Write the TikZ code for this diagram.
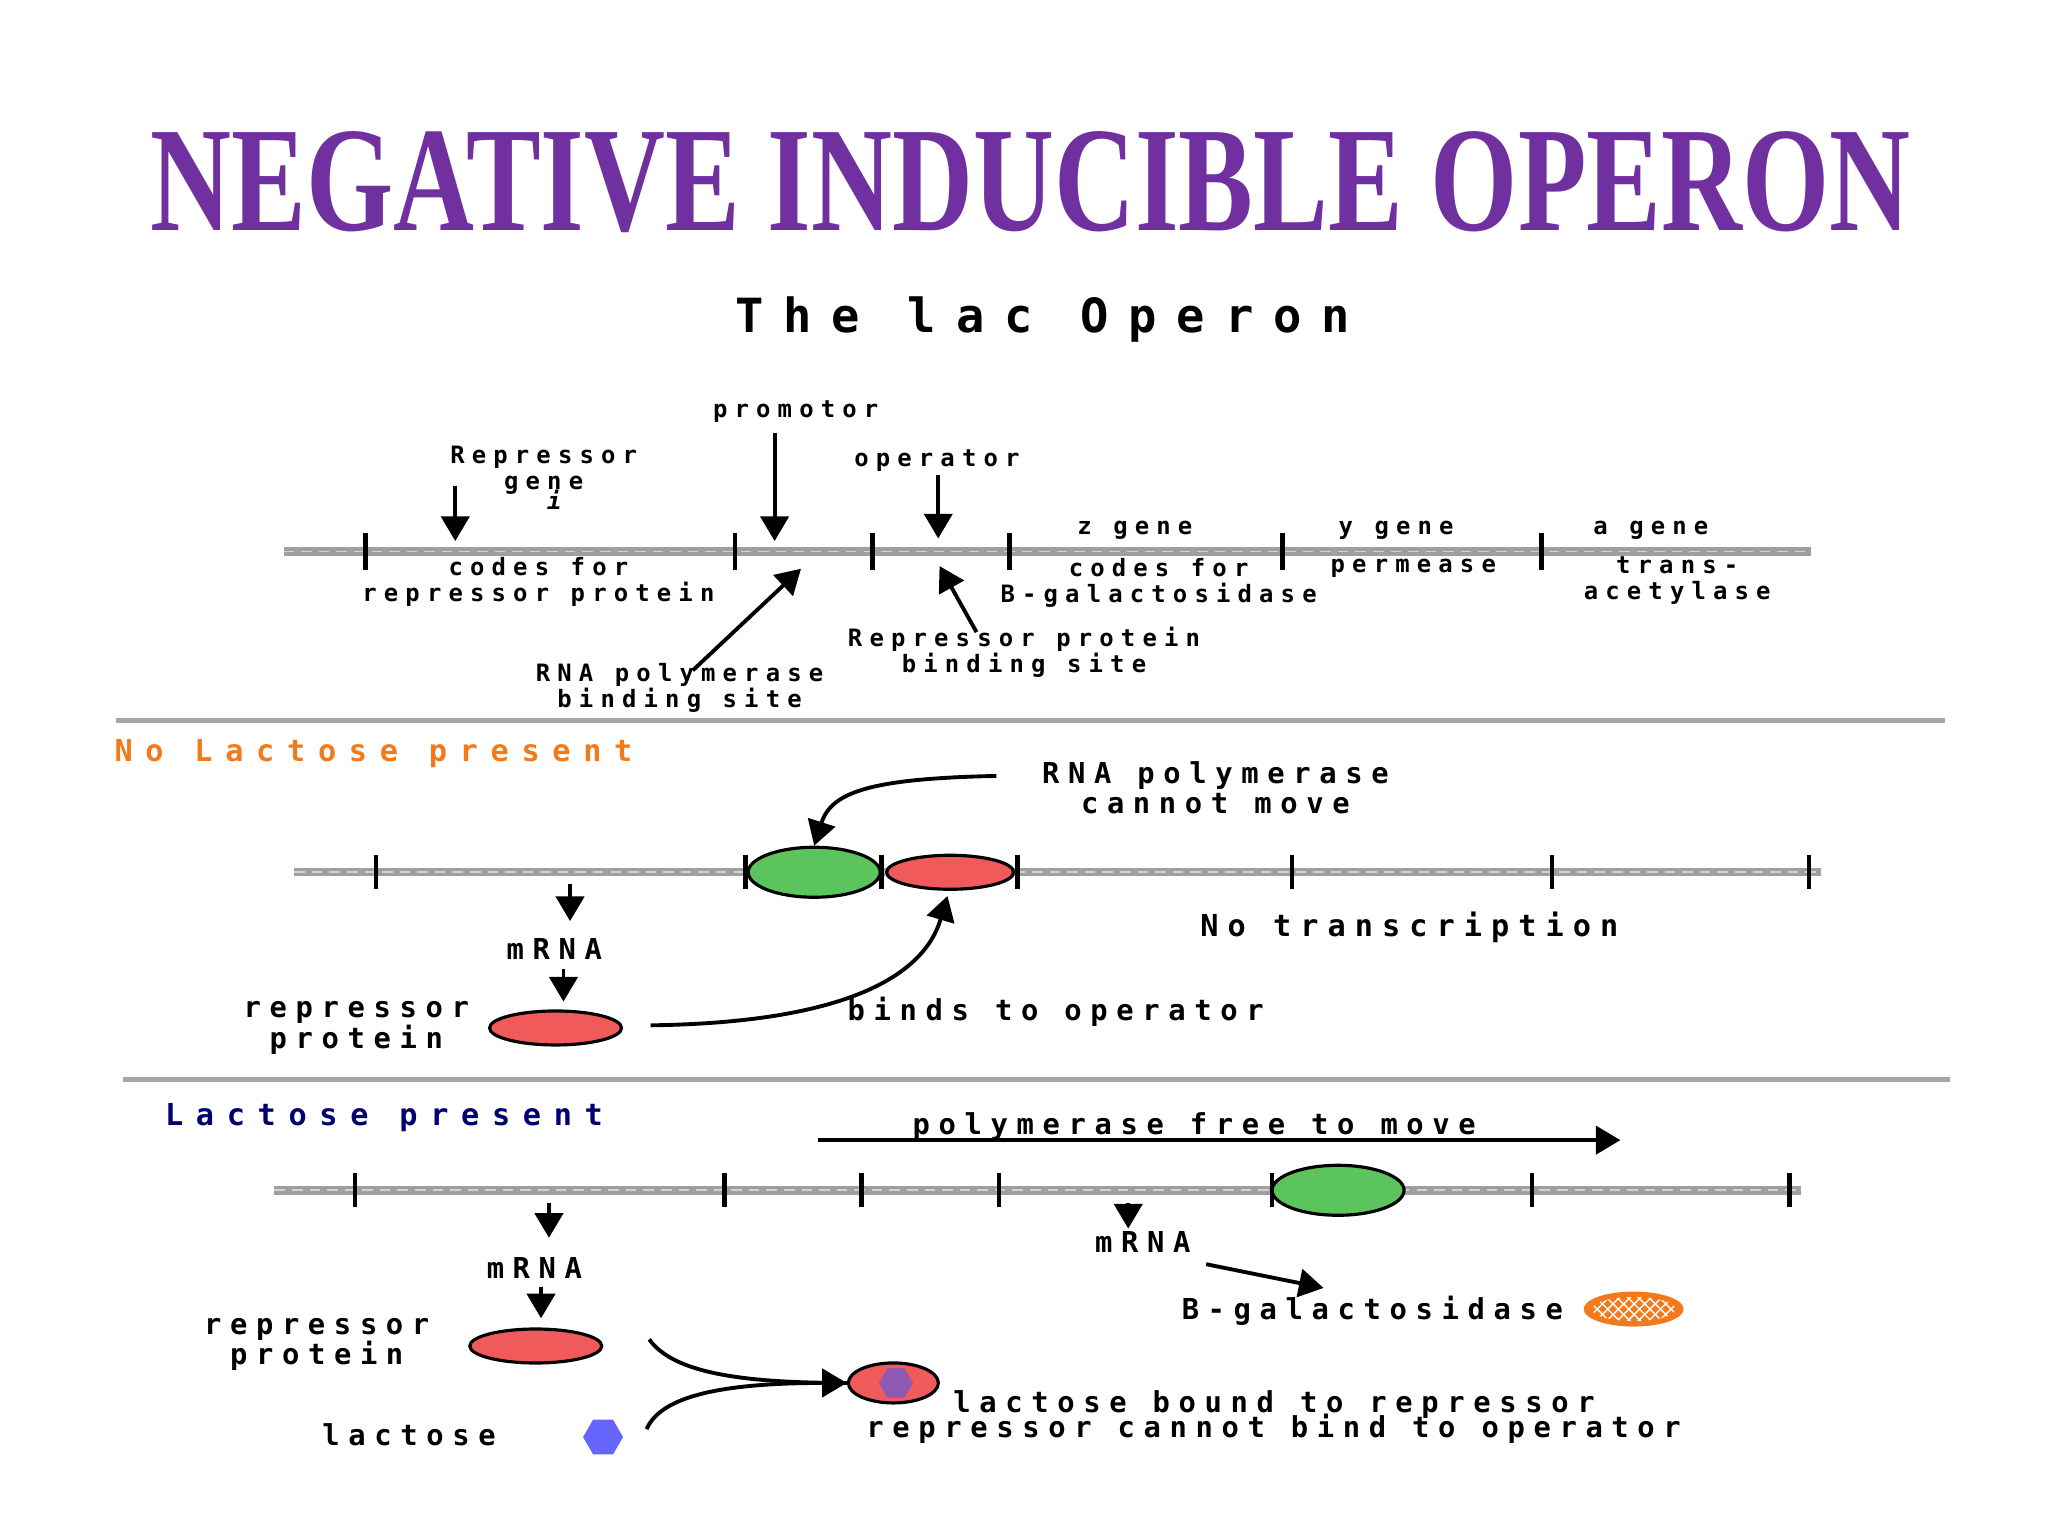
\documentclass[tikz,border=0pt]{standalone}
\usepackage{fontspec}
\usetikzlibrary{arrows.meta,shapes.geometric,positioning,patterns}
\setmainfont{Liberation Serif}
\newfontfamily\pix{DejaVu Sans Mono}[LetterSpace=30]
\newfontfamily\pixwide{DejaVu Sans Mono}[LetterSpace=42]
\definecolor{titlepurple}{HTML}{7030A0}
\definecolor{genegreen}{HTML}{5CC45C}
\definecolor{repred}{HTML}{F05A5A}
\definecolor{lacblue}{HTML}{6666FF}
\definecolor{enzorange}{HTML}{F27A1A}
\tikzset{
  lbl/.style={font=\pix\bfseries\fontsize{6.8}{7.4}\selectfont, align=center, inner sep=0pt},
  lblbig/.style={lbl, font=\pix\bfseries\fontsize{8.2}{8.6}\selectfont},
  dna/.style={draw=gray!75, line width=2.4pt},
  dnahatch/.style={draw=gray!35, line width=0.5pt, dash pattern=on 3pt off 2pt},
  tick/.style={line width=1.3pt},
  arr/.style={line width=1.1pt, -{Triangle[length=7pt,width=8pt]}},
  sep/.style={draw=gray!70, line width=1.3pt},
  blob/.style={ellipse, draw=black, line width=0.9pt, inner sep=0pt},
}
\begin{document}
\begin{tikzpicture}[x=0.0132cm, y=-0.0132cm]
    \useasboundingbox (0,0) rectangle (1552,1164);

    % Title
    \node[text=titlepurple] (title) at (781,138)
        {\resizebox{17.6cm}{0.99cm}{\bfseries NEGATIVE INDUCIBLE OPERON}};
    \node[font=\pixwide\bfseries\fontsize{13.4}{15}\selectfont] (lac) at (790,242) {The lac Operon};

    % ---------------- the lac operon map ----------------
    \draw[dna] (215,418) -- (1372,418);
    \draw[dnahatch] (215,418) -- (1372,418);
    \foreach \x in {277,557,661,765,972,1168}
        \draw[tick] (\x,404) -- (\x,432);

    \node[lbl] (promotor) at (603,312) {promotor};
    \node[lbl] (repgene) at (412,356) {Repressor\\gene};
    \node[lbl, font=\pix\bfseries\itshape\fontsize{6.8}{7.4}\selectfont] (igene) at (420,379) {i};
    \node[lbl] (operator) at (710,349) {operator};
    \node[lbl] (zgene) at (860,402) {z gene};
    \node[lbl] (ygene) at (1058,402) {y gene};
    \node[lbl] (agene) at (1251,402) {a gene};
    \node[lbl] (codesrep) at (408,441) {codes for\\repressor protein};
    \node[lbl] (codesz) at (878,442) {codes for\\B-galactosidase};
    \node[lbl] (permease) at (1071,431) {permease};
    \node[lbl] (trans) at (1271,440) {trans-\\acetylase};
    \node[lbl] (rnapsite) at (515,521) {RNA polymerase\\binding site};
    \node[lbl] (repsite) at (776,494) {Repressor protein\\binding site};

    \coordinate (promtip) at (587,410);
    \coordinate (reptip) at (345,410);
    \coordinate (optip) at (711,408);
    \coordinate (rnaptip) at (607,431);
    \coordinate (repsitetip) at (712,429);
    \draw[arr] (587,328) -- (promtip);
    \draw[arr] (345,368) -- (reptip);
    \draw[arr] (711,360) -- (optip);
    \draw[arr] (525,508) -- (rnaptip);
    \draw[arr] (740,479) -- (repsitetip);

    \draw[sep] (88,546) -- (1474,546);

    % ---------------- no lactose ----------------
    \node[font=\pixwide\bfseries\fontsize{8.6}{10}\selectfont, text=enzorange] (nolac) at (283,571) {No Lactose present};
    \draw[dna] (223,661) -- (1380,661);
    \draw[dnahatch] (223,661) -- (1380,661);
    \foreach \x in {285,565,668,771,979,1176,1371}
        \draw[tick] (\x,648) -- (\x,674);
    \node[blob, fill=genegreen, minimum width=1.32cm, minimum height=0.5cm] (polA) at (617,661) {};
    \node[blob, fill=repred, minimum width=1.27cm, minimum height=0.34cm] (repA) at (720,661) {};
    \node[lblbig] (cannot) at (921,597) {RNA polymerase\\cannot move};
    \node[lblbig] (mrnaA) at (420,719) {mRNA};
    \node[lblbig] (repprotA) at (270,779) {repressor\\protein};
    \node[blob, fill=repred, minimum width=1.32cm, minimum height=0.34cm] (freerepA) at (421,779) {};
    \node[lblbig] (binds) at (800,767) {binds to operator};
    \node[font=\pix\bfseries\fontsize{8.6}{10}\selectfont] (notrans) at (1068,703) {No transcription};

    \coordinate (cannotstart) at (755,588);
    \coordinate (repAtop) at (718,679);
    \coordinate (mrnaAtop) at (432,670);
    \coordinate (mrnaAtip) at (432,698);
    \coordinate (mrnaAbot) at (427,734);
    \coordinate (freerepAtip) at (427,759);
    \coordinate (bindsstart) at (493,777);
    \draw[arr] (cannotstart) .. controls (660,590) and (630,600) .. (polA.north);
    \draw[arr] (mrnaAtop) -- (mrnaAtip);
    \draw[arr] (mrnaAbot) -- (freerepAtip);
    \draw[arr] (bindsstart) .. controls (640,775) and (700,740) .. (repAtop);

    \draw[sep] (93,818) -- (1478,818);

    % ---------------- lactose present ----------------
    \node[font=\pixwide\bfseries\fontsize{8.6}{10}\selectfont, text=blue!45!black] (yeslac) at (291,847) {Lactose present};
    \node[lblbig] (free) at (905,854) {polymerase free to move};
    \coordinate (freestart) at (620,864);
    \coordinate (freeend) at (1228,864);
    \draw[arr] (freestart) -- (freeend);
    \draw[dna] (208,902) -- (1365,902);
    \draw[dnahatch] (208,902) -- (1365,902);
    \foreach \x in {269,549,653,757,964,1161,1356}
        \draw[tick] (\x,889) -- (\x,915);
    \node[blob, fill=genegreen, minimum width=1.32cm, minimum height=0.5cm] (polB) at (1014,902) {};

    \node[lblbig] (mrnaB) at (405,961) {mRNA};
    \node[lblbig] (repprotB) at (240,1019) {repressor\\protein};
    \node[blob, fill=repred, minimum width=1.32cm, minimum height=0.34cm] (freerepB) at (406,1020) {};
    \node[lblbig] (lactose) at (310,1087) {lactose};
    \node[regular polygon, regular polygon sides=6, fill=lacblue, minimum size=0.4cm, inner sep=0pt] (lacmol) at (457,1089) {};
    \node[lblbig] (mrnaC) at (866,941) {mRNA};
    \node[lblbig] (bgal) at (1040,993) {B-galactosidase};
    \node[ellipse, fill=enzorange, minimum width=1cm, minimum height=0.35cm, inner sep=0pt] (enz) at (1238,992) {};
    \fill[pattern=crosshatch, pattern color=white] (enz.center) ellipse (0.42cm and 0.12cm);
    \node[blob, fill=repred, minimum width=0.9cm, minimum height=0.4cm] (complex) at (677,1048) {};
    \node[regular polygon, regular polygon sides=6, fill=titlepurple!80, minimum size=0.34cm, inner sep=0pt] (boundlac) at (679,1048) {};
    \node[lblbig, anchor=west] (boundtxt) at (722,1064) {lactose bound to repressor};
    \node[lblbig, anchor=west] (cannotbind) at (656,1083) {repressor cannot bind to operator};

    \coordinate (mrnaBtop) at (416,912);
    \coordinate (mrnaBtip) at (416,938);
    \coordinate (mrnaBbot) at (410,975);
    \coordinate (freerepBtip) at (410,999);
    \coordinate (mrnaCtop) at (855,912);
    \coordinate (mrnaCtip) at (855,931);
    \coordinate (bgalstart) at (914,958);
    \coordinate (bgaltip) at (1003,976);
    \coordinate (repcurve) at (492,1015);
    \coordinate (laccurve) at (490,1083);
    \draw[arr] (mrnaBtop) -- (mrnaBtip);
    \draw[arr] (mrnaBbot) -- (freerepBtip);
    \draw[arr] (mrnaCtop) -- (mrnaCtip);
    \draw[arr] (bgalstart) -- (bgaltip);
    \draw[line width=1.1pt] (repcurve) .. controls (510,1040) and (560,1048) .. (complex.west);
    \draw[arr] (laccurve) .. controls (500,1060) and (540,1048) .. (complex.west);
\end{tikzpicture}
\end{document}
